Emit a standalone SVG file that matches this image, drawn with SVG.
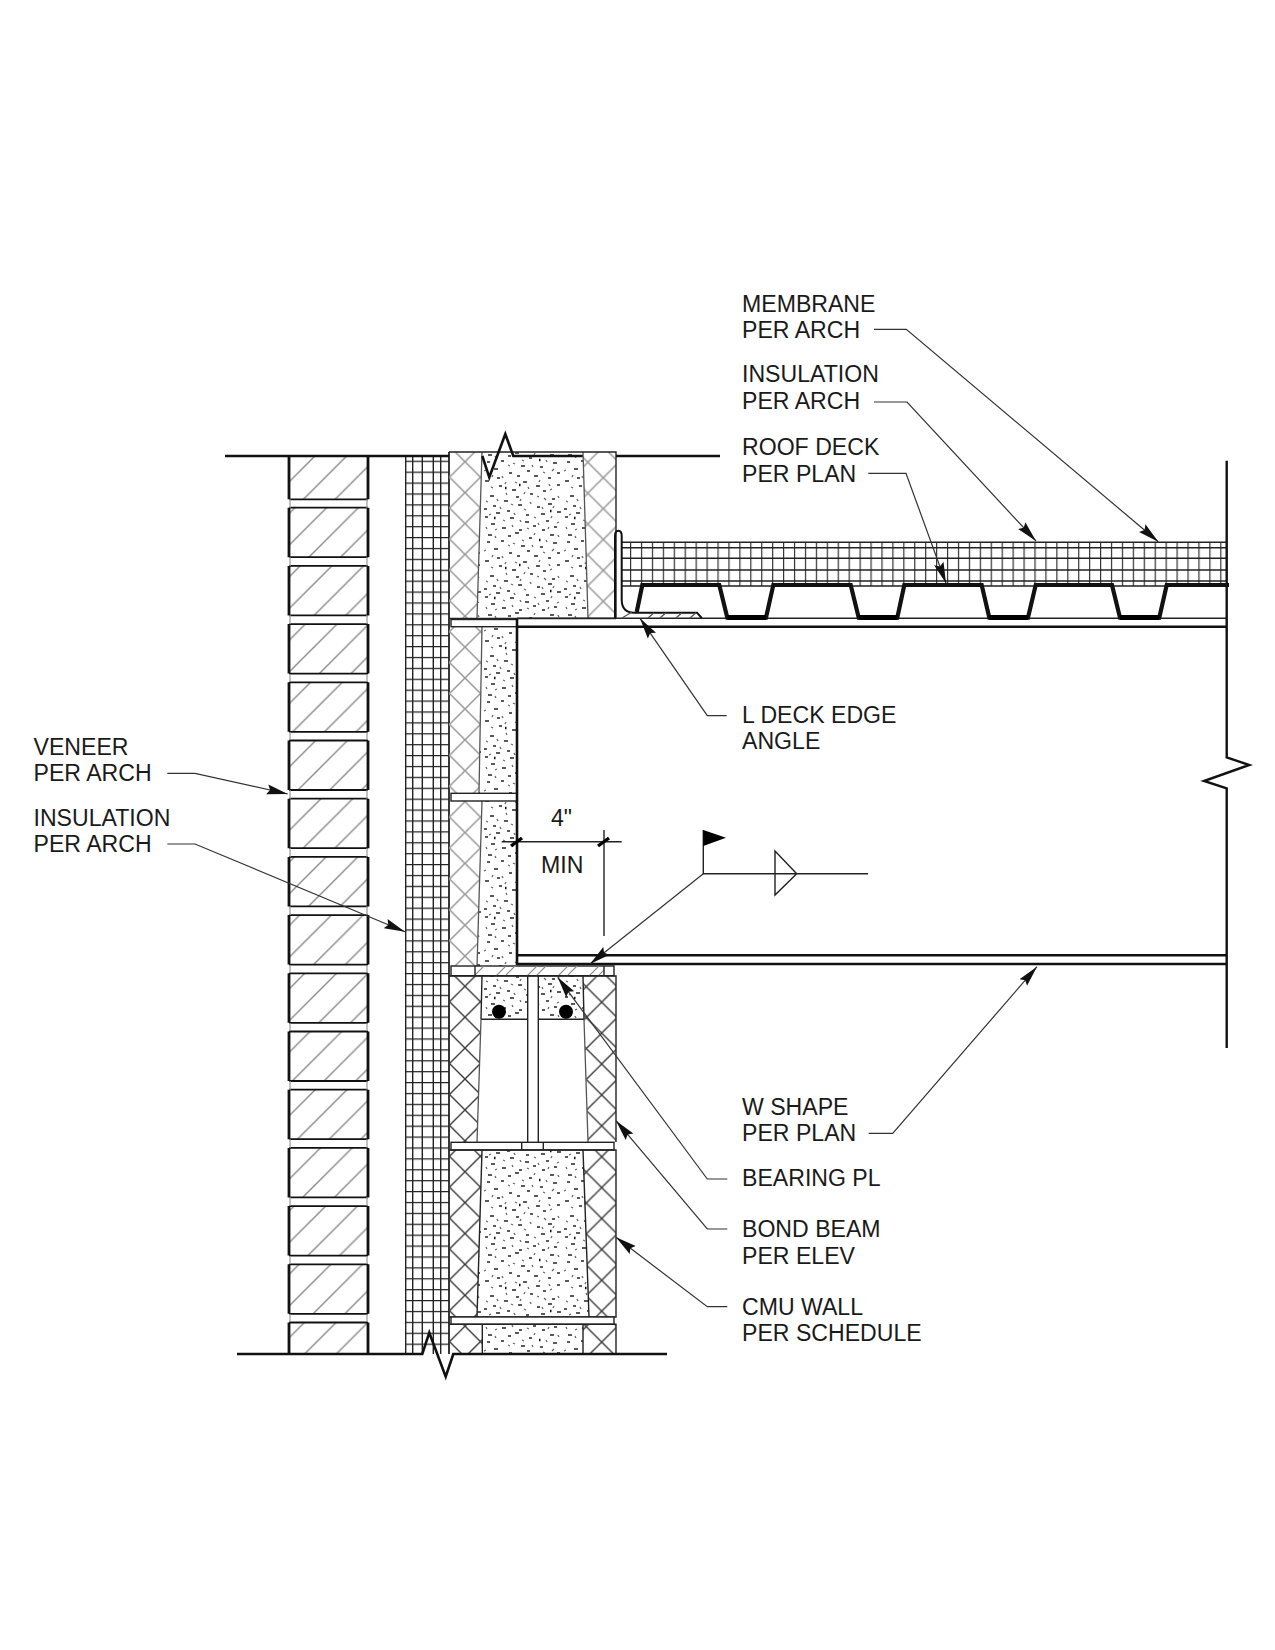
<svg xmlns="http://www.w3.org/2000/svg" xmlns:xlink="http://www.w3.org/1999/xlink" width="1275" height="1650" viewBox="0 0 1275 1650">
<style>
text{font-family:"Liberation Sans",Arial,sans-serif;font-size:23.1px;fill:#1a1a1a}
.thick{fill:none;stroke:#111;stroke-width:2.6}
.deck{fill:none;stroke:#111;stroke-width:4.2;stroke-linejoin:miter}
.thin{fill:none;stroke:#222;stroke-width:1.4}
.gray{fill:none;stroke:#555;stroke-width:1.3}
.leader{fill:none;stroke:#333;stroke-width:1.2;marker-end:url(#arrow)}
.brick{fill:url(#brickHatch);stroke:none}
.brickFace{fill:none;stroke:#111;stroke-width:1.8}
.brickSide{fill:none;stroke:#111;stroke-width:2.8}
.white{fill:#fff;stroke:#222;stroke-width:1.4}
</style>
<defs>
<marker id="arrow" markerUnits="userSpaceOnUse" markerWidth="22" markerHeight="12" viewBox="0 0 22 12" refX="21" refY="6" orient="auto"><path d="M0 1L21 6L0 11L3 6Z" fill="#111"/></marker>
<pattern id="brickHatch" patternUnits="userSpaceOnUse" x="315" y="456" width="31.7" height="31.7"><path d="M-1 32.7L32.7 -1M-1 1L1 -1M30.7 32.7L32.7 30.7" stroke="#888" stroke-width="1.4" fill="none"/></pattern>
<pattern id="gridWall" patternUnits="userSpaceOnUse" x="400" y="460.7" width="60" height="10.9"><path d="M0 0H60" stroke="#222" stroke-width="2.4" fill="none"/></pattern>
<pattern id="gridRoof" patternUnits="userSpaceOnUse" x="630" y="500" width="10.93" height="100"><path d="M0 0V100" stroke="#333" stroke-width="2.4" fill="none"/></pattern>
<pattern id="hatchUL" patternUnits="userSpaceOnUse" x="465" y="461.7" width="30.9" height="30.9"><path d="M0 0L30.9 30.9M30.9 0L0 30.9" stroke="#999" stroke-width="1.5" fill="none"/></pattern>
<pattern id="hatchUR" patternUnits="userSpaceOnUse" x="603.3" y="477.7" width="30.9" height="30.9"><path d="M0 0L30.9 30.9M30.9 0L0 30.9" stroke="#999" stroke-width="1.5" fill="none"/></pattern>
<pattern id="hatchLL" patternUnits="userSpaceOnUse" x="465" y="1171.7" width="30.9" height="30.9"><path d="M0 0L30.9 30.9M30.9 0L0 30.9" stroke="#3a3a3a" stroke-width="1.4" fill="none"/></pattern>
<pattern id="hatchLR" patternUnits="userSpaceOnUse" x="601.7" y="1156.7" width="30.9" height="30.9"><path d="M0 0L30.9 30.9M30.9 0L0 30.9" stroke="#3a3a3a" stroke-width="1.4" fill="none"/></pattern>
<pattern id="plateHatch" patternUnits="userSpaceOnUse" x="475" y="966" width="31" height="31"><path d="M-1 32L32 -1M8 32L32 8M-1 10L10 -1" stroke="#888" stroke-width="1.2" fill="none"/></pattern>
<pattern id="stipple" patternUnits="userSpaceOnUse" x="482" y="452" width="80" height="80">
<path d="M6 3h4M19 9h3M33 1h4M47 6h3M71 11h4M58 15h3M12 17h4M27 21h3M39 14h4M66 26h3M3 29h4M52 24h4M75 33h3M17 34h3M41 30h4M30 38h4M61 39h3M8 44h4M48 42h3M22 49h4M70 47h3M36 53h4M55 55h3M2 57h3M14 61h4M75 60h4M44 63h3M28 66h4M64 69h3M9 72h4M51 74h3M37 78h3M20 76h4M72 75h3M59 62h4M34 45h3M11 54h3M66 52h4M25 59h3M45 19h3M75 21h3M5 10h3M35 24h3M54 34h4M15 26h3M68 3h4M26 4h3M60 78h3M43 70h4M3 65h3" stroke="#222" stroke-width="1.5" fill="none"/>
<path d="M13 4l1 2M40 8l2 1M53 1l-1 2M76 3l1 2M26 13l2 1M64 8l1 2M2 19l2 -1M50 13l1 2M72 17l-2 2M20 24l1 2M33 30l2 1M58 28l-1 2M9 35l2 1M46 35l1 2M70 37l-2 1M24 41l1 2M55 44l2 1M39 47l-1 2M15 47l1 2M76 44l1 2M4 49l2 1M62 46l2 2M29 52l2 1M48 50l1 2M72 54l-1 2M18 55l1 2M42 57l2 1M60 55l1 2M7 63l2 -1M32 61l1 2M52 65l2 1M70 64l-1 2M21 68l2 1M38 68l1 2M77 70l-2 1M56 71l1 2M13 78l2 -1M30 73l1 2M45 76l2 1M66 77l1 -2M4 75l1 2M24 30l-1 2M31 11l2 1M10 25l1 -2M61 20l2 1M43 40l-1 2M67 32l1 2" stroke="#666" stroke-width="1.3" fill="none"/>
<path d="M23 36h1.5M57 8h1.5M12 66h1.5M68 59h1.5M37 33h1.5" stroke="#111" stroke-width="2.4" fill="none"/>
</pattern>
</defs>
<g id="veneer">
<rect class="brick" x="289" y="456" width="79" height="43.3"/><rect class="brick" x="289" y="507.7" width="79" height="49.5"/><rect class="brick" x="289" y="565.9" width="79" height="49.5"/><rect class="brick" x="289" y="624.1" width="79" height="49.5"/><rect class="brick" x="289" y="682.3" width="79" height="49.5"/><rect class="brick" x="289" y="740.5" width="79" height="49.5"/><rect class="brick" x="289" y="798.7" width="79" height="49.5"/><rect class="brick" x="289" y="856.9" width="79" height="49.5"/><rect class="brick" x="289" y="915.1" width="79" height="49.5"/><rect class="brick" x="289" y="973.3" width="79" height="49.5"/><rect class="brick" x="289" y="1031.5" width="79" height="49.5"/><rect class="brick" x="289" y="1089.7" width="79" height="49.5"/><rect class="brick" x="289" y="1147.9" width="79" height="49.5"/><rect class="brick" x="289" y="1206.1" width="79" height="49.5"/><rect class="brick" x="289" y="1264.3" width="79" height="49.5"/><rect class="brick" x="289" y="1322.5" width="79" height="31.5"/>
<path class="brickFace" d="M289 499.3H368M289 507.7H368M289 557.2H368M289 565.9H368M289 615.4H368M289 624.1H368M289 673.6H368M289 682.3H368M289 731.8H368M289 740.5H368M289 790H368M289 798.7H368M289 848.2H368M289 856.9H368M289 906.4H368M289 915.1H368M289 964.6H368M289 973.3H368M289 1022.8H368M289 1031.5H368M289 1081H368M289 1089.7H368M289 1139.2H368M289 1147.9H368M289 1197.4H368M289 1206.1H368M289 1255.6H368M289 1264.3H368M289 1313.8H368M289 1322.5H368"/>
<path class="brickSide" d="M289 456V499.3M368 456V499.3M289 507.7V557.2M368 507.7V557.2M289 565.9V615.4M368 565.9V615.4M289 624.1V673.6M368 624.1V673.6M289 682.3V731.8M368 682.3V731.8M289 740.5V790M368 740.5V790M289 798.7V848.2M368 798.7V848.2M289 856.9V906.4M368 856.9V906.4M289 915.1V964.6M368 915.1V964.6M289 973.3V1022.8M368 973.3V1022.8M289 1031.5V1081M368 1031.5V1081M289 1089.7V1139.2M368 1089.7V1139.2M289 1147.9V1197.4M368 1147.9V1197.4M289 1206.1V1255.6M368 1206.1V1255.6M289 1264.3V1313.8M368 1264.3V1313.8M289 1322.5V1354M368 1322.5V1354"/>
<path d="M290 499V508M367 499V508M290 557V566M367 557V566M290 615V624M367 615V624M290 674V682M367 674V682M290 732V740M367 732V740M290 790V799M367 790V799M290 848V857M367 848V857M290 906V915M367 906V915M290 965V973M367 965V973M290 1023V1031M367 1023V1031M290 1081V1090M367 1081V1090M290 1139V1148M367 1139V1148M290 1197V1206M367 1197V1206M290 1256V1264M367 1256V1264M290 1314V1322M367 1314V1322" fill="none" stroke="#999" stroke-width="1.2"/>
</g>
<g id="wall-insulation">
<rect x="405.7" y="456" width="43.3" height="898" fill="url(#gridWall)"/>
<path class="thin" d="M405.7 456V1354M412.7 456V1354M422.3 456V1354M433.3 456V1354M440.7 456V1354"/>
<path d="M449 452V1354" stroke="#222" stroke-width="1.8" fill="none"/>
</g>
<g id="cmu-upper">
<path d="M449 452H482L477 618H449Z" fill="url(#hatchUL)"/>
<path d="M583 452H616V618H588Z" fill="url(#hatchUR)"/>
<path d="M482 452H583L588 618H477Z" fill="url(#stipple)"/>
<path d="M449 627H482L479 793H449Z" fill="url(#hatchUL)"/>
<path d="M482 627H517V793H479Z" fill="url(#stipple)"/>
<path d="M449 801H482L477 966H449Z" fill="url(#hatchUL)"/>
<path d="M482 801H517V966H477Z" fill="url(#stipple)"/>
<path class="gray" d="M482 452L477 618M583 452L588 618M482 627L479 793M482 801L477 966"/>
<path class="thin" d="M449 452H616V618M449 618.5H616"/>
<rect class="white" x="451" y="619.5" width="66" height="7.2"/>
<rect class="white" x="451" y="793.3" width="66" height="7.7"/>
</g>
<g id="bearing-plate">
<rect class="white" x="451" y="966" width="163" height="9.7"/>
<rect x="475" y="966" width="129" height="9.7" fill="url(#plateHatch)"/>
<path class="thin" d="M475 966V975.7M604 966V975.7"/>
</g>
<g id="bond-beam">
<path d="M449 976H482L477 1142H449Z" fill="url(#hatchLL)"/>
<path d="M583 976H616V1142H588Z" fill="url(#hatchLR)"/>
<path d="M482 976H527.7V1019H481Z" fill="url(#stipple)"/>
<path d="M538.3 976H583L584 1019H538.3Z" fill="url(#stipple)"/>
<path class="thin" d="M449 976H616V1142M481 1019.3H527.7M538.3 1019.3H584M527.7 976V1142M538.3 976V1142M482 976L481 1019.3M583 976L584 1019.3"/>
<path class="gray" d="M481 1019.3L477 1142M584 1019.3L588 1142"/>
<circle cx="499" cy="1011.7" r="7" fill="#000"/><circle cx="566" cy="1011.7" r="7" fill="#000"/>
</g>
<g id="cmu-lower">
<rect class="white" x="451" y="1142.3" width="163" height="7.7"/>
<path class="thin" d="M521.7 1142.3V1150M543.3 1142.3V1150"/>
<path d="M449 1150H482L477 1317H449Z" fill="url(#hatchLL)"/>
<path d="M583 1150H616V1317H589Z" fill="url(#hatchLR)"/>
<path d="M482 1150H583L589 1317H477Z" fill="url(#stipple)"/>
<path class="thin" d="M449 1150H616V1317H449M482 1150L477 1317M583 1150L589 1317"/>
<rect class="white" x="451" y="1317" width="163" height="7.3"/>
<path d="M449 1324.3H482.3V1354H449Z" fill="url(#hatchLL)"/>
<path d="M583 1324.3H616V1354H583Z" fill="url(#hatchLR)"/>
<path d="M482.3 1324.3H583V1354H482.3Z" fill="url(#stipple)"/>
<path class="thin" d="M449 1324.3H616V1354M482.3 1324.3V1354M583 1324.3V1354"/>
</g>
<g id="roof-insulation">
<rect x="622" y="542.3" width="605" height="43.7" fill="url(#gridRoof)"/>
<path class="thin" d="M622 542.3H1227M622 547.7H1227M622 558.3H1227M622 570H1227M622 581H1227M622 586H1227"/>
</g>
<g id="w-shape">
<path class="thick" d="M517 619V965M517 626.7H1227M517 955.3H1227M517 964H1227"/>
<path d="M517 618.3H1227" fill="none" stroke="#222" stroke-width="1.6"/>
<path d="M1226.7 460.7V757.3L1249.3 765L1204 781L1226.7 788.3V1048" fill="none" stroke="#111" stroke-width="2.4"/>
</g>
<g id="roof-deck">
<path class="deck" d="M636.7 612L642.3 585H719.3L727.3 617.7H766L773.3 585H850.7L858.7 617.7H897.3L904.3 585H981.7L989.3 617.7H1028L1035.7 585H1112L1120 617.7H1159.3L1166.7 585H1229"/>
<path d="M727.3 617.5H766M858.7 617.5H897.3M989.3 617.5H1028M1120 617.5H1159.3" fill="none" stroke="#000" stroke-width="5"/>
</g>
<g id="deck-angle">
<path d="M615 618V536Q615 530.7 618.3 530.7Q621.7 530.7 621.7 536V600Q622 612.7 634 612.7H697L701.7 618" fill="none" stroke="#111" stroke-width="2"/>
<path class="gray" d="M622 618L632 612M648 618L654 612.7M660 618L666 612.7M676 618L682 612.7M690 618L696 612.7"/>
</g>
<g id="cut-lines">
<path class="thick" d="M225 456H449M616 456H720"/>
<path class="thick" d="M482.3 456L489.3 477.3L505.3 434L513.3 456H582.7"/>
<path class="thick" d="M237 1354H422.3L429.3 1332.7L445.7 1376.7L453.3 1354H667"/>
</g>
<g id="connectors">
<path class="leader" d="M874 329.3H906.3L1158.3 541.7"/>
<path class="leader" d="M874 402H907L1036 541"/>
<path class="leader" d="M868.3 473.3H906L946 583.3"/>
<path class="leader" d="M726.7 715.7H707.3L640 618.3"/>
<path class="leader" d="M167.3 773.3H195L287.7 794"/>
<path class="leader" d="M167.3 844H195L405 931.7"/>
<path class="leader" d="M868.7 1133.3H892.7L1037 966.7"/>
<path class="leader" d="M727.3 1179H707.3L557.7 977.3"/>
<path class="leader" d="M727.3 1229H707.3L616 1120.7"/>
<path class="leader" d="M727.3 1306.7H707.3L616 1237.3"/>
<path class="leader" d="M703.3 873.7L590 964"/>
</g>
<g id="dimension">
<path class="thin" d="M501.7 841.7H621.7M604 830V936"/>
<path d="M511 846L522 838M598 846L609 838" stroke="#000" stroke-width="3.4" fill="none"/>
<text x="551" y="825.5">4"</text>
<text x="541" y="873.2">MIN</text>
</g>
<g id="weld-symbol">
<path class="thin" d="M703.3 830V873.7H868M775 851L796.7 873.7L775 895Z"/>
<path d="M703.3 830L726 837.7L703.3 846Z" fill="#000"/>
</g>
<g id="labels">
<text x="742" y="311.5">MEMBRANE</text><text x="742" y="337.8">PER ARCH</text>
<text x="742" y="382.2">INSULATION</text><text x="742" y="408.8">PER ARCH</text>
<text x="742" y="454.8">ROOF DECK</text><text x="742" y="481.5">PER PLAN</text>
<text x="742" y="723.2">L DECK EDGE</text><text x="742" y="748.8">ANGLE</text>
<text x="33.5" y="754.5">VENEER</text><text x="33.5" y="781.2">PER ARCH</text>
<text x="33.5" y="825.5">INSULATION</text><text x="33.5" y="852.2">PER ARCH</text>
<text x="742" y="1114.8">W SHAPE</text><text x="742" y="1140.5">PER PLAN</text>
<text x="742" y="1186.2">BEARING PL</text>
<text x="742" y="1237.2">BOND BEAM</text><text x="742" y="1263.8">PER ELEV</text>
<text x="742" y="1314.8">CMU WALL</text><text x="742" y="1340.5">PER SCHEDULE</text>
</g>
</svg>
